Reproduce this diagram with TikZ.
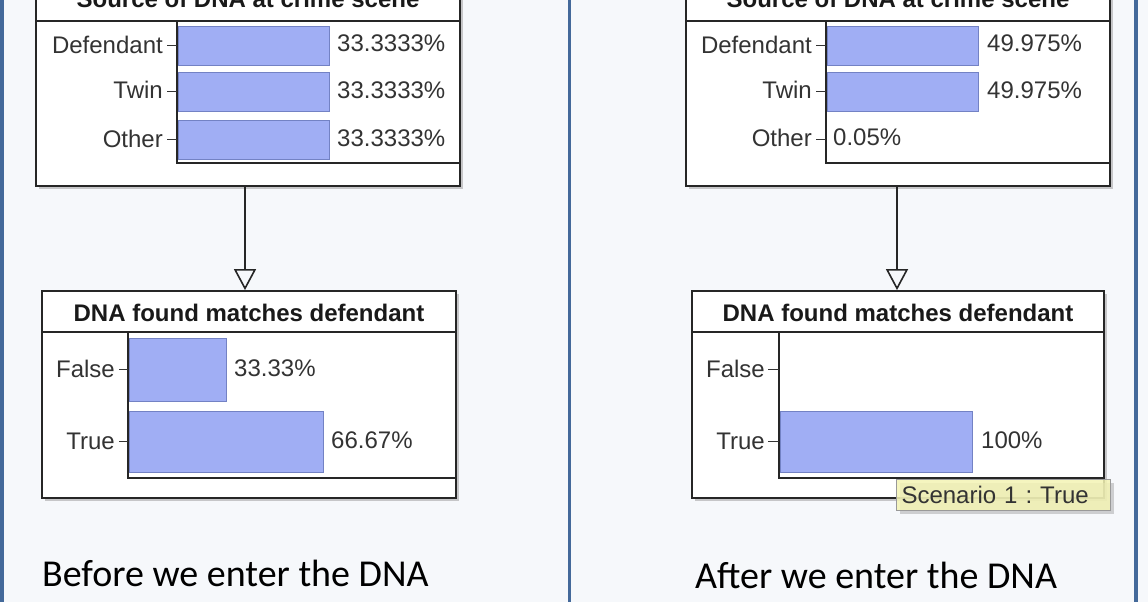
\documentclass[tikz,border=0pt]{standalone}
\usepackage{fontspec}
\setmainfont{Liberation Sans}
\newfontfamily\slidefont{Carlito}
\usetikzlibrary{arrows.meta,shadows}
\definecolor{slideblue}{HTML}{44699A}
\definecolor{slidebg}{HTML}{F6F8FB}
\definecolor{barfill}{HTML}{A0AEF4}
\definecolor{barline}{HTML}{7382C4}
\definecolor{tipfill}{HTML}{F4F4B4}
\tikzset{
  netbox/.style={draw=black!85, line width=1.8pt, fill=white, inner sep=0pt,
    drop shadow={shadow xshift=3pt, shadow yshift=-3pt, fill=black!35, opacity=.6}},
  rule/.style={black!85, line width=1.8pt},
  tick/.style={black!80, line width=1.2pt},
  bar/.style={draw=barline, fill=barfill, line width=1.2pt, anchor=north west, inner sep=0pt},
  lbl/.style={font=\fontsize{24}{28}\selectfont\frenchspacing, text=black!80, inner sep=0pt},
  ttl/.style={font=\fontsize{24}{28}\selectfont\bfseries, text=black!90, inner sep=0pt, anchor=base},
  link/.style={black!85, line width=1.6pt, -{Triangle[open, length=21pt, width=22pt, line width=1.6pt]}},
  tipbox/.style={draw=black!40, line width=1pt, fill=tipfill, fill opacity=.85, text opacity=1,
    drop shadow={shadow xshift=3pt, shadow yshift=-3pt, fill=black!35, opacity=.5}},
  caption/.style={font=\slidefont\fontsize{38}{45}\selectfont, inner sep=0pt, anchor=base west}
}
\begin{document}
\begin{tikzpicture}[x=1pt, y=-1pt]
\useasboundingbox (0,0) rectangle (1148,602);
\fill[slidebg] (0,0) rectangle (1148,602);
\fill[slideblue] (0,0) rectangle (4,602);
\fill[slideblue] (568,0) rectangle (571,602);
\fill[slideblue] (1134,0) rectangle (1138,602);

% before the evidence
\begin{scope}[name prefix=L-]
\node[netbox, minimum width=424pt, minimum height=208pt] (src) at (248,82) {};
\draw[rule] (src.west |- 0,21) -- (src.east |- 0,21);
\node[ttl] (srctitle) at (248,8) {Source of DNA at crime scene};
\draw[rule] (177,21) -- (177,163) -- (src.east |- 0,163);
\foreach \rowname/\rowtxt/\ytop/\barlen/\pct in {def/Defendant/26/151/33.3333\%, twin/Twin/72/151/33.3333\%, oth/Other/120/151/33.3333\%}
{
  \node[bar, minimum width=\barlen pt, minimum height=39pt] (\rowname) at (178,\ytop) {};
  \draw[tick] (167,{\ytop+19.5}) -- (177,{\ytop+19.5});
  \node[lbl, anchor=base east] (\rowname-lbl) at (163,{\ytop+27}) {\rowtxt};
  \node[lbl, anchor=base west] (\rowname-val) at ({178+\barlen+8},{\ytop+26}) {\pct};
}

\node[netbox, minimum width=414pt, minimum height=207pt] (dna) at (249,394.5) {};
\draw[rule] (dna.west |- 0,332) -- (dna.east |- 0,332);
\node[ttl] (dnatitle) at (249,321) {DNA found matches defendant};
\draw[rule] (128,332) -- (128,478) -- (dna.east |- 0,478);
\foreach \rowname/\rowtxt/\ytop/\barht/\barlen/\pct in {no/False/338/63/97/33.33\%, yes/True/411/61/194/66.67\%}
{
  \node[bar, minimum width=\barlen pt, minimum height=\barht pt] (\rowname) at (129,\ytop) {};
  \draw[tick] (119,{\ytop+\barht/2}) -- (128,{\ytop+\barht/2});
  \node[lbl, anchor=base east] (\rowname-lbl) at (115,{\ytop+\barht/2+8}) {\rowtxt};
  \node[lbl, anchor=base west] (\rowname-val) at ({129+\barlen+8},{\ytop+\barht/2+7}) {\pct};
}

\draw[link] ([xshift=-3pt]src.south) -- ([xshift=-3pt]src.south |- dna.north);
\node[caption] (before) at (42,586) {Before we enter the DNA};
\end{scope}

% after the evidence
\begin{scope}[shift={(650,0)}, name prefix=R-]
\node[netbox, minimum width=424pt, minimum height=208pt] (src) at (248,82) {};
\draw[rule] (src.west |- 0,21) -- (src.east |- 0,21);
\node[ttl] (srctitle) at (248,8) {Source of DNA at crime scene};
\draw[rule] (176,21) -- (176,163) -- (src.east |- 0,163);
\foreach \rowname/\rowtxt/\ytop/\barlen/\pct in {def/Defendant/26/151/49.975\%, twin/Twin/72/151/49.975\%}
{
  \node[bar, minimum width=\barlen pt, minimum height=39pt] (\rowname) at (177,\ytop) {};
  \draw[tick] (166,{\ytop+19.5}) -- (176,{\ytop+19.5});
  \node[lbl, anchor=base east] (\rowname-lbl) at (162,{\ytop+27}) {\rowtxt};
  \node[lbl, anchor=base west] (\rowname-val) at ({177+\barlen+9},{\ytop+26}) {\pct};
}
\draw[tick] (166,139.5) -- (176,139.5);
\node[lbl, anchor=base east] (oth-lbl) at (162,146) {Other};
\node[lbl, anchor=base west] (oth-val) at (183,145) {0.05\%};

\node[netbox, minimum width=412pt, minimum height=207pt] (dna) at (248,394.5) {};
\draw[rule] (dna.west |- 0,332) -- (dna.east |- 0,332);
\node[ttl] (dnatitle) at (248,321) {DNA found matches defendant};
\draw[rule] (129,332) -- (129,478) -- (dna.east |- 0,478);
\draw[tick] (118,369.5) -- (129,369.5);
\node[lbl, anchor=base east] (no-lbl) at (115,377.5) {False};
\node[bar, minimum width=192pt, minimum height=61pt] (yes) at (130,411) {};
\draw[tick] (118,441.5) -- (129,441.5);
\node[lbl, anchor=base east] (yes-lbl) at (115,449.5) {True};
\node[lbl, anchor=base west] (yes-val) at (331,448.5) {100\%};

\draw[link] ([xshift=-1pt]src.south) -- ([xshift=-1pt]src.south |- dna.north);
\node[tipbox, lbl, anchor=north west, minimum width=214pt, minimum height=31pt,
  text width=204pt, inner xsep=5pt, align=left] (tip) at (246,479) {Scenario 1 : True};
\node[caption] (after) at (45,588) {After we enter the DNA};
\end{scope}
\end{tikzpicture}
\end{document}
